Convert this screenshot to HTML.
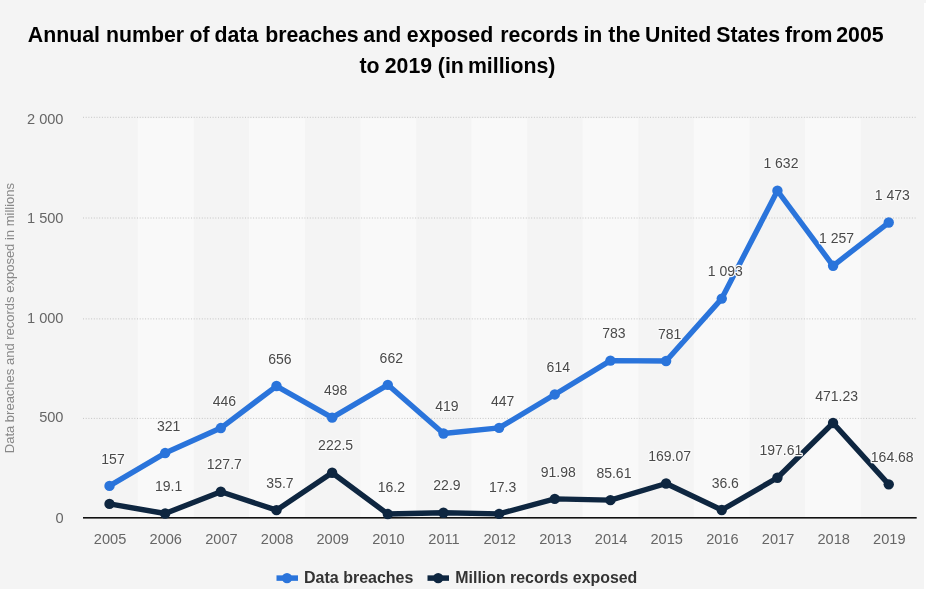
<!DOCTYPE html>
<html><head><meta charset="utf-8"><title>Data breaches chart</title>
<style>
html,body{margin:0;padding:0;background:#f4f4f4;}
body{width:926px;height:589px;overflow:hidden;}
svg{display:block;will-change:transform;}
text{font-family:"Liberation Sans",sans-serif;}
.tt{font-size:21.3px;font-weight:bold;fill:#000;}
.ax{font-size:14.6px;fill:#666;}
.yt{font-size:13px;fill:#888;}
.dl{font-size:14px;fill:#4a4a4a;stroke:#fafafa;stroke-width:2.5px;paint-order:stroke;stroke-linejoin:round;}
.lg{font-size:16px;font-weight:bold;fill:#333;}
</style></head>
<body><svg width="926" height="589" viewBox="0 0 926 589">
<rect x="0" y="0" width="926" height="589" fill="#f4f4f4"/>
<rect x="924" y="3" width="2" height="586" fill="#ffffff"/>
<rect x="137.90" y="118.3" width="55.85" height="399.2" fill="#f9f9f9"/>
<rect x="249.08" y="118.3" width="55.85" height="399.2" fill="#f9f9f9"/>
<rect x="360.26" y="118.3" width="55.85" height="399.2" fill="#f9f9f9"/>
<rect x="471.44" y="118.3" width="55.85" height="399.2" fill="#f9f9f9"/>
<rect x="582.62" y="118.3" width="55.85" height="399.2" fill="#f9f9f9"/>
<rect x="693.80" y="118.3" width="55.85" height="399.2" fill="#f9f9f9"/>
<rect x="804.98" y="118.3" width="55.85" height="399.2" fill="#f9f9f9"/>
<line x1="83" y1="117.3" x2="916.5" y2="117.3" stroke="#c4c4c4" stroke-width="1" stroke-dasharray="1 1.7"/>
<line x1="83" y1="218.0" x2="916.5" y2="218.0" stroke="#c4c4c4" stroke-width="1" stroke-dasharray="1 1.7"/>
<line x1="83" y1="318.9" x2="916.5" y2="318.9" stroke="#c4c4c4" stroke-width="1" stroke-dasharray="1 1.7"/>
<line x1="83" y1="418.4" x2="916.5" y2="418.4" stroke="#c4c4c4" stroke-width="1" stroke-dasharray="1 1.7"/>
<rect x="83" y="517" width="833.7" height="1.6" fill="#111"/>
<text x="63.5" y="124" text-anchor="end" class="ax">2 000</text>
<text x="63.5" y="223" text-anchor="end" class="ax">1 500</text>
<text x="63.5" y="323" text-anchor="end" class="ax">1 000</text>
<text x="63.5" y="422" text-anchor="end" class="ax">500</text>
<text x="63.5" y="523" text-anchor="end" class="ax">0</text>
<text transform="translate(14.1 318.1) rotate(-90)" text-anchor="middle" class="yt">Data breaches and records exposed in millions</text>
<text x="110.10" y="543.7" text-anchor="middle" class="ax">2005</text>
<text x="165.76" y="543.7" text-anchor="middle" class="ax">2006</text>
<text x="221.42" y="543.7" text-anchor="middle" class="ax">2007</text>
<text x="277.08" y="543.7" text-anchor="middle" class="ax">2008</text>
<text x="332.74" y="543.7" text-anchor="middle" class="ax">2009</text>
<text x="388.40" y="543.7" text-anchor="middle" class="ax">2010</text>
<text x="444.06" y="543.7" text-anchor="middle" class="ax">2011</text>
<text x="499.72" y="543.7" text-anchor="middle" class="ax">2012</text>
<text x="555.38" y="543.7" text-anchor="middle" class="ax">2013</text>
<text x="611.04" y="543.7" text-anchor="middle" class="ax">2014</text>
<text x="666.70" y="543.7" text-anchor="middle" class="ax">2015</text>
<text x="722.36" y="543.7" text-anchor="middle" class="ax">2016</text>
<text x="778.02" y="543.7" text-anchor="middle" class="ax">2017</text>
<text x="833.68" y="543.7" text-anchor="middle" class="ax">2018</text>
<text x="889.34" y="543.7" text-anchor="middle" class="ax">2019</text>
<path d="M109.50 503.91 L165.16 513.48 L220.82 491.75 L276.48 510.16 L332.14 472.78 L387.80 514.06 L443.46 512.72 L499.12 513.84 L554.78 498.89 L610.44 500.17 L666.10 483.47 L721.76 509.98 L777.42 477.76 L833.08 423.01 L888.74 484.35" fill="none" stroke="#0e2640" stroke-width="5.4" stroke-linejoin="round" stroke-linecap="round"/>
<circle cx="109.50" cy="503.91" r="5.2" fill="#0e2640"/>
<circle cx="165.16" cy="513.48" r="5.2" fill="#0e2640"/>
<circle cx="220.82" cy="491.75" r="5.2" fill="#0e2640"/>
<circle cx="276.48" cy="510.16" r="5.2" fill="#0e2640"/>
<circle cx="332.14" cy="472.78" r="5.2" fill="#0e2640"/>
<circle cx="387.80" cy="514.06" r="5.2" fill="#0e2640"/>
<circle cx="443.46" cy="512.72" r="5.2" fill="#0e2640"/>
<circle cx="499.12" cy="513.84" r="5.2" fill="#0e2640"/>
<circle cx="554.78" cy="498.89" r="5.2" fill="#0e2640"/>
<circle cx="610.44" cy="500.17" r="5.2" fill="#0e2640"/>
<circle cx="666.10" cy="483.47" r="5.2" fill="#0e2640"/>
<circle cx="721.76" cy="509.98" r="5.2" fill="#0e2640"/>
<circle cx="777.42" cy="477.76" r="5.2" fill="#0e2640"/>
<circle cx="833.08" cy="423.01" r="5.2" fill="#0e2640"/>
<circle cx="888.74" cy="484.35" r="5.2" fill="#0e2640"/>
<path d="M109.50 485.88 L165.16 453.07 L220.82 428.06 L276.48 386.03 L332.14 417.65 L387.80 384.83 L443.46 433.46 L499.12 427.86 L554.78 394.44 L610.44 360.62 L666.10 361.02 L721.76 298.59 L777.42 190.74 L833.08 265.77 L888.74 222.55" fill="none" stroke="#2a74db" stroke-width="5.4" stroke-linejoin="round" stroke-linecap="round"/>
<circle cx="109.50" cy="485.88" r="5.2" fill="#2a74db"/>
<circle cx="165.16" cy="453.07" r="5.2" fill="#2a74db"/>
<circle cx="220.82" cy="428.06" r="5.2" fill="#2a74db"/>
<circle cx="276.48" cy="386.03" r="5.2" fill="#2a74db"/>
<circle cx="332.14" cy="417.65" r="5.2" fill="#2a74db"/>
<circle cx="387.80" cy="384.83" r="5.2" fill="#2a74db"/>
<circle cx="443.46" cy="433.46" r="5.2" fill="#2a74db"/>
<circle cx="499.12" cy="427.86" r="5.2" fill="#2a74db"/>
<circle cx="554.78" cy="394.44" r="5.2" fill="#2a74db"/>
<circle cx="610.44" cy="360.62" r="5.2" fill="#2a74db"/>
<circle cx="666.10" cy="361.02" r="5.2" fill="#2a74db"/>
<circle cx="721.76" cy="298.59" r="5.2" fill="#2a74db"/>
<circle cx="777.42" cy="190.74" r="5.2" fill="#2a74db"/>
<circle cx="833.08" cy="265.77" r="5.2" fill="#2a74db"/>
<circle cx="888.74" cy="222.55" r="5.2" fill="#2a74db"/>
<text x="113.00" y="463.58" text-anchor="middle" class="dl">157</text>
<text x="168.66" y="430.77" text-anchor="middle" class="dl">321</text>
<text x="224.32" y="405.76" text-anchor="middle" class="dl">446</text>
<text x="279.98" y="363.73" text-anchor="middle" class="dl">656</text>
<text x="335.64" y="395.35" text-anchor="middle" class="dl">498</text>
<text x="391.30" y="362.53" text-anchor="middle" class="dl">662</text>
<text x="446.96" y="411.16" text-anchor="middle" class="dl">419</text>
<text x="502.62" y="405.56" text-anchor="middle" class="dl">447</text>
<text x="558.28" y="372.14" text-anchor="middle" class="dl">614</text>
<text x="613.94" y="338.32" text-anchor="middle" class="dl">783</text>
<text x="669.60" y="338.72" text-anchor="middle" class="dl">781</text>
<text x="725.26" y="276.29" text-anchor="middle" class="dl">1 093</text>
<text x="780.92" y="168.44" text-anchor="middle" class="dl">1 632</text>
<text x="836.58" y="243.47" text-anchor="middle" class="dl">1 257</text>
<text x="892.24" y="200.25" text-anchor="middle" class="dl">1 473</text>
<text x="168.66" y="491.18" text-anchor="middle" class="dl">19.1</text>
<text x="224.32" y="469.45" text-anchor="middle" class="dl">127.7</text>
<text x="279.98" y="487.86" text-anchor="middle" class="dl">35.7</text>
<text x="335.64" y="450.48" text-anchor="middle" class="dl">222.5</text>
<text x="391.30" y="491.76" text-anchor="middle" class="dl">16.2</text>
<text x="446.96" y="490.42" text-anchor="middle" class="dl">22.9</text>
<text x="502.62" y="491.54" text-anchor="middle" class="dl">17.3</text>
<text x="558.28" y="476.59" text-anchor="middle" class="dl">91.98</text>
<text x="613.94" y="477.87" text-anchor="middle" class="dl">85.61</text>
<text x="669.60" y="461.17" text-anchor="middle" class="dl">169.07</text>
<text x="725.26" y="487.68" text-anchor="middle" class="dl">36.6</text>
<text x="780.92" y="455.46" text-anchor="middle" class="dl">197.61</text>
<text x="836.58" y="400.71" text-anchor="middle" class="dl">471.23</text>
<text x="892.24" y="462.05" text-anchor="middle" class="dl">164.68</text>
<text x="27.8" y="42" class="tt">Annual</text>
<text x="106.0" y="42" class="tt">number</text>
<text x="189.6" y="42" class="tt">of</text>
<text x="214.5" y="42" class="tt">data</text>
<text x="265.2" y="42" class="tt">breaches</text>
<text x="363.3" y="42" class="tt">and</text>
<text x="406.8" y="42" class="tt">exposed</text>
<text x="500.3" y="42" class="tt">records</text>
<text x="583.4" y="42" class="tt">in</text>
<text x="608.3" y="42" class="tt">the</text>
<text x="645.0" y="42" class="tt">United</text>
<text x="716.2" y="42" class="tt">States</text>
<text x="785.0" y="42" class="tt">from</text>
<text x="836.2" y="42" class="tt">2005</text>
<text x="359.4" y="73.4" class="tt">to</text>
<text x="384.7" y="73.4" class="tt">2019</text>
<text x="437.8" y="73.4" class="tt">(in</text>
<text x="467.9" y="73.4" class="tt">millions)</text>
<line x1="276.5" y1="578.1" x2="298" y2="578.1" stroke="#2a74db" stroke-width="5.5"/>
<circle cx="287" cy="578.1" r="5.2" fill="#2a74db"/>
<text x="304" y="582.7" class="lg">Data breaches</text>
<line x1="427.5" y1="578.1" x2="449" y2="578.1" stroke="#0e2640" stroke-width="5.5"/>
<circle cx="438.2" cy="578.1" r="5.2" fill="#0e2640"/>
<text x="455.3" y="582.7" class="lg" textLength="182" lengthAdjust="spacingAndGlyphs">Million records exposed</text>
</svg></body></html>
